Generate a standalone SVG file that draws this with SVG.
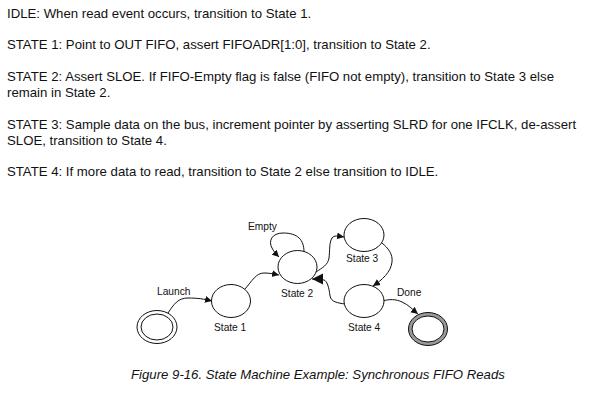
<svg xmlns="http://www.w3.org/2000/svg" width="610" height="401" viewBox="0 0 610 401">
<style>
text{font-family:"Liberation Sans",Arial,sans-serif;fill:#111}
.b{font-size:13.2px}
.l{font-size:10.2px}
.c{font-size:13.2px;font-style:italic}
.n{fill:#fff;stroke:#111;stroke-width:1}
.e{fill:none;stroke:#111;stroke-width:1}
</style>
<defs>
<marker id="a" markerUnits="userSpaceOnUse" markerWidth="8" markerHeight="8" refX="7" refY="4" orient="auto"><path d="M0 0.5L7 4L0 7.5z" fill="#111"/></marker>
<marker id="b" markerUnits="userSpaceOnUse" markerWidth="12" markerHeight="12" refX="11" refY="6" orient="auto"><path d="M0 0.5L11 6L0 11.5z" fill="#111"/></marker>
</defs>
<rect width="610" height="401" fill="#fff"/>
<g id="body">
<text class="b" x="7" y="18">IDLE: When read event occurs, transition to State 1.</text>
<text class="b" x="7" y="49">STATE 1: Point to OUT FIFO, assert FIFOADR[1:0], transition to State 2.</text>
<text class="b" x="7" y="81">STATE 2: Assert SLOE. If FIFO-Empty flag is false (FIFO not empty), transition to State 3 else</text>
<text class="b" x="7" y="97">remain in State 2.</text>
<text class="b" x="7" y="129">STATE 3: Sample data on the bus, increment pointer by asserting SLRD for one IFCLK, de-assert</text>
<text class="b" x="7" y="145">SLOE, transition to State 4.</text>
<text class="b" x="7" y="176">STATE 4: If more data to read, transition to State 2 else transition to IDLE.</text>
</g>
<g id="connectors">
<path class="e" marker-end="url(#a)" d="M168 313C174 304 178 298 188 298C198 298 204 299 212 301"/>
<path class="e" marker-end="url(#a)" d="M245 289C252 281 256 273 264 273C270 273 274 274 279 275"/>
<path class="e" marker-end="url(#a)" d="M304 252C304 240 298 233 283 233C272 233 268 241 272 248C274 252 277 255 279 257"/>
<path class="e" marker-end="url(#a)" d="M316 272C322 268 328 265 329 258C330 250 329 243 332 238C334 235 338 236 344 237"/>
<path class="e" marker-end="url(#a)" d="M382 243C388 248 393 254 392 262C391 272 382 280 373 286"/>
<path class="e" marker-end="url(#b)" d="M345 304C338 303 331 302 330 296C329 287 327 281 324 280C320 279 316 279 312 279"/>
<path class="e" marker-end="url(#a)" d="M383 301C389 299 396 299 402 302C409 305 413 310 418 314"/>
</g>
<g id="idle"><ellipse class="n" cx="157" cy="327" rx="20" ry="16.5"/><ellipse class="n" cx="157" cy="327" rx="16" ry="13"/></g>
<g id="state1"><ellipse class="n" cx="231" cy="301" rx="19.5" ry="16.5"/><text class="l" x="214" y="331">State 1</text></g>
<g id="state2"><ellipse class="n" cx="297.5" cy="267" rx="19.5" ry="16.5"/><text class="l" x="281" y="297">State 2</text></g>
<g id="state3"><ellipse class="n" cx="364" cy="235" rx="20" ry="16.5"/><text class="l" x="346" y="262">State 3</text></g>
<g id="state4"><ellipse class="n" cx="364" cy="301" rx="20" ry="16.5"/><text class="l" x="348" y="331">State 4</text></g>
<g id="done"><ellipse cx="428" cy="329" rx="19.5" ry="16.5" fill="#999" stroke="#111"/><ellipse class="n" cx="428" cy="329" rx="16" ry="13"/></g>
<g id="labels">
<text class="l" x="157" y="295">Launch</text>
<text class="l" x="248" y="230">Empty</text>
<text class="l" x="397" y="296">Done</text>
</g>
<text class="c" x="131" y="379">Figure 9-16. State Machine Example: Synchronous FIFO Reads</text>
</svg>
